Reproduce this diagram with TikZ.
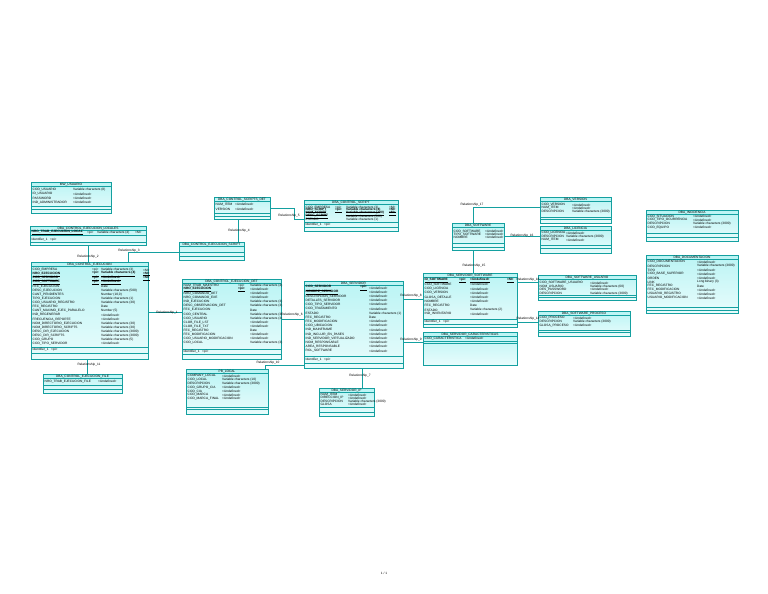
\documentclass[tikz,border=0pt]{standalone}
\usepackage{fontspec}
\setmainfont{Liberation Sans}
\usetikzlibrary{arrows.meta}
\definecolor{eb}{RGB}{20,160,160}
\definecolor{ef1}{RGB}{186,244,244}
\definecolor{ef2}{RGB}{232,252,252}
\tikzset{
 ebox/.style={draw=eb, line width=0.6pt, top color=ef1, bottom color=ef2, inner sep=0pt, outer sep=0pt},
 eline/.style={draw=eb, line width=0.5pt},
 etitle/.style={font=\fontsize{3.2}{3.5}\selectfont, inner sep=0pt},
 etxt/.style={font=\fontsize{3.2}{3.5}\selectfont, inner sep=0pt, anchor=west},
 conn/.style={draw=eb, line width=0.7pt},
 rlabel/.style={font=\fontsize{3.2}{3.5}\selectfont, inner sep=0pt},
}
\newcommand\dk[1]{\textbf{\underline{#1}}}
\newcommand\ent[8]{%
 \node[ebox, minimum width=#4pt, minimum height=#5pt, anchor=north west] (#1) at (#2,#3) {};
 \draw[eline] (#2,#3+4.5) -- ++(#4,0);
 \node[etitle] (#1t) at (#2+#4/2,#3+2.3) {#6};
 \draw[eline] (#2,#3+#7) -- ++(#4,0);
 \draw[eline] (#2,#3+#8) -- ++(#4,0);
}
\newcommand\rws[6]{%
 \foreach \na/\ty [count=\i] in {#6} {
  \node[etxt] (#1-n\i) at (#2+1.5,#3+\i*#4-#4) {\na};
  \node[etxt] (#1-t\i) at (#2+#5,#3+\i*#4-#4) {\ty};
 }}
\newcommand\idr[3]{%
 \node[etxt] (#1-id) at (#2+1.5,#3) {Identifier\_1};
 \node[etxt] (#1-idp) at (#2+20,#3) {<pi>};
}
\newcommand\tg[4]{\node[etxt] (#1) at (#2,#3) {#4};}
\begin{document}
\catcode`\_=12
\begin{tikzpicture}[x=1pt,y=-1pt]
\fill[white] (0,0) rectangle (768,594);
\useasboundingbox (0,0) rectangle (768,594);

% MW_USUARIO
\ent{mwu}{31}{182}{80}{31}{MW_USUARIO}{24}{27}
\rws{mwu}{31}{190}{4.1}{42}{COD_USUARIO/Variable characters (8), ID_USUARIO/<Undefined>, PASSWORD/<Undefined>, IND_ADMINISTRADOR/<Undefined>}

% LOG
\ent{log}{30}{226}{116}{19}{DBA_CONTROL_EJECUCION_LOCALES}{9.5}{16.5}
\rws{log}{30}{232.5}{4}{67}{\dk{NRO_TRAB_EJECUCION_LOCAL}/Variable characters (4)}
\tg{log-pi}{87}{232.5}{<pi>}
\tg{log-m}{135}{232.5}{<M>}
\idr{log}{30}{239.5}

% DBA_CONTROL_EJECUCION
\ent{ejec}{31}{262}{117}{97}{DBA_CONTROL_EJECUCION}{85}{91}
\rws{ejec}{31}{270}{4.1}{70}{COD_EMPRESA/Variable characters (3), \dk{NRO_EJECUCION}/\dk{Variable characters (4)}, \dk{COD_SERVIDOR}/\dk{<Undefined>}, \dk{COD_SOFTWARE}/\dk{<Undefined>}, FEC_EJECUCION/Date, DESC_EJECUCION/Variable characters (500), CANT_PENDIENTES/{Number (10,0)}, TIPO_EJECUCION/Variable characters (1), COD_USUARIO_REGISTRO/Variable characters (30), FEC_REGISTRO/Date, CANT_MAXIMO_EJEC_PARALELO/Number (5), IND_REGENERAR/<Undefined>, FRECUENCIA_REPORTE/<Undefined>, NOM_DIRECTORIO_EJECUCION/Variable characters (30), NOM_DIRECTORIO_SCRIPTS/Variable characters (30), DESC_DIR_EJECUCION/Variable characters (3000), DESC_DIR_SCRIPTS/Variable characters (3000), COD_GRUPO/Variable characters (5), COD_TIPO_SERVIDOR/<Undefined>}
\tg{ejec-p1}{92}{270}{<pi>}
\tg{ejec-p2}{92}{274.1}{\dk{<pi>}}
\tg{ejec-p3}{92}{278.2}{\dk{<pi>}}
\tg{ejec-p4}{92}{282.3}{\dk{<pi>}}
\tg{ejec-m1}{143}{270}{<M>}
\tg{ejec-m2}{143}{274.1}{\dk{<M>}}
\tg{ejec-m3}{143}{278.2}{\dk{<M>}}
\idr{ejec}{31}{350}

% DBA_CONTROL_SCRIPTS_DET
\ent{sdet}{214}{197}{56}{22}{DBA_CONTROL_SCRIPTS_DET}{16}{19}
\rws{sdet}{214}{204.5}{4.5}{21}{NUM_ITEM/<Undefined>, VERSION/<Undefined>}

% DBA_CONTROL_EJECUCION_SCRIPT
\ent{escr}{179}{242}{65}{18}{DBA_CONTROL_EJECUCION_SCRIPT}{10.7}{14.5}

% DBA_CONTROL_SCRIPT
\ent{cs}{304}{200}{94}{31}{DBA_CONTROL_SCRIPT}{22}{27}
\rws{cs}{304}{207.5}{3}{42}{COD_EMPRESA/Variable characters (3), \dk{NRO_SCRIPT}/\dk{Variable characters (4)}, \dk{NOM_SCRIPT}/\dk{Variable characters (100)}, \dk{DESC_SCRIPT}/Variable characters (500), ESTADO/Variable characters (1)}
\tg{cs-p1}{335}{207.5}{<pi>}
\tg{cs-p2}{335}{210.5}{\dk{<pi>}}
\tg{cs-m1}{389}{207.5}{<M>}
\tg{cs-m2}{389}{210.5}{\dk{<M>}}
\tg{cs-m3}{389}{213.5}{\dk{<M>}}
\idr{cs}{304}{225}

% DBA_CONTROL_EJECUCION_DET
\ent{det}{182}{279}{99}{80}{DBA_CONTROL_EJECUCION_DET}{70}{75}
\rws{det}{182}{285.5}{4.1}{68}{NUM_TRAB_MAESTRO/Variable characters (4), \dk{NRO_EJECUCION}/<Undefined>, NRO_COMANDO_DET/<Undefined>, NRO_COMANDO_EXE/<Undefined>, IND_EJECUCION/Variable characters (3), DESC_OBSERVACION_DET/Variable characters (3), FEC_EJECUCION/Date, COD_CENTRAL/Variable characters (3), COD_USUARIO/Variable characters (3), CLOB_FILE_LST/<Undefined>, CLOB_FILE_TXT/<Undefined>, FEC_REGISTRO/Date, FEC_MODIFICACION/<Undefined>, COD_USUARIO_MODIFICACION/<Undefined>, COD_LOCAL/Variable characters (3)}
\tg{det-p1}{238}{285.5}{<pi>}
\tg{det-p2}{238}{289.6}{\dk{<pi>}}
\idr{det}{182}{352}

% DBA_SERVIDOR
\ent{serv}{304}{281}{99}{87}{DBA_SERVIDOR}{75}{82}
\rws{serv}{304}{288}{4.2}{65}{\dk{COD_SERVIDOR}/<Undefined>, \dk{NOMBRE_SERVIDOR}/<Undefined>, DESCRIPCION_SERVIDOR/<Undefined>, DETALLES_SERVIDOR/<Undefined>, COD_TIPO_SERVIDOR/<Undefined>, COD_TRATAMIENTO/<Undefined>, ESTADO/Variable characters (1), FEC_REGISTRO/Date, FEC_MODIFICACION/<Undefined>, COD_UBICACION/<Undefined>, IND_MAINFRAME/<Undefined>, IND_INCLUIR_EN_PASES/<Undefined>, IND_SERVIDOR_VIRTUALIZADO/<Undefined>, NOM_RESPONSABLE/<Undefined>, AREA_RESPONSABLE/<Undefined>, ROL_SOFTWARE/<Undefined>}
\tg{serv-p1}{360}{288}{\dk{<pi>}}
\idr{serv}{304}{360}

% PB_LOCAL
\ent{pb}{186}{369}{82}{45}{PB_LOCAL}{38}{40.5}
\rws{pb}{186}{376}{3.8}{36}{COMPANY_LOCAL/<Undefined>, COD_LOCAL/Variable characters (10), DESCRIPCION/Variable characters (3000), COD_GRUPO_CIA/<Undefined>, COD_CIA/<Undefined>, COD_MARCA/<Undefined>, COD_MARCA_FINAL/<Undefined>}

% DBA_CONTROL_EJECUCION_FILE
\ent{file}{43}{374}{79}{19}{DBA_CONTROL_EJECUCION_FILE}{11}{15}
\rws{file}{43}{381.5}{4}{55}{NRO_TRAB_EJECUCION_FILE/<Undefined>}

% DBA_SERVIDOR_IP
\ent{ip}{319}{388}{55}{28}{DBA_SERVIDOR_IP}{19}{24}
\rws{ip}{319}{395}{3.1}{29}{NUM_ITEM/<Undefined>, DIRECCION_IP/<Undefined>, DESCRIPCION/Variable characters (3000), GLOSA/<Undefined>}

% DBA_SOFTWARE
\ent{sw}{452}{223}{52}{27}{DBA_SOFTWARE}{20}{24}
\rws{sw}{452}{231.5}{3}{33}{COD_SOFTWARE/<Undefined>, TIPO_SOFTWARE/<Undefined>, NOMBRE/<Undefined>}

% DBA_SERVIDOR_SOFTWARE
\ent{ssw}{423}{273}{94}{54}{DBA_SERVIDOR_SOFTWARE}{46}{51}
\rws{ssw}{423}{280.5}{4.2}{47}{\dk{ID_SOFTWARE}/\dk{<Undefined>}, COD_SOFTWARE/<Undefined>, COD_LICENCIA/<Undefined>, COD_VERSION/<Undefined>, GLOSA_DETALLE/<Undefined>, NOMBRE/<Undefined>, FEC_REGISTRO/Date, ESTADO/Variable characters (2), IND_INVENTARIO/<Undefined>}
\tg{ssw-p1}{459}{280.5}{\dk{<pi>}}
\tg{ssw-m1}{507}{280.5}{\dk{<M>}}
\idr{ssw}{423}{322}

% DBA_SERVIDOR_CARACTERISTICAS
\ent{car}{423}{332}{94}{33}{DBA_SERVIDOR_CARACTERISTICAS}{9}{11.5}
\rws{car}{423}{338.5}{4}{42}{COD_CARACTERISTICA/<Undefined>}

% DBA_VERSION
\ent{ver}{540}{197}{71}{26}{DBA_VERSION}{20}{22.5}
\rws{ver}{540}{205}{3.2}{32}{COD_VERSION/<Undefined>, NUM_ITEM/<Undefined>, DESCRIPCION/Variable characters (3000)}

% DBA_LICENCIA
\ent{lic}{540}{226}{71}{27}{DBA_LICENCIA}{19}{22}
\rws{lic}{540}{233}{3.5}{26}{COD_LICENCIA/<Undefined>, DESCRIPCION/Variable characters (3000), NUM_ITEM/<Undefined>}

% DBA_SOFTWARE_USUARIO
\ent{su}{538}{275}{98}{25}{DBA_SOFTWARE_USUARIO}{20}{22.5}
\rws{su}{538}{283}{3.4}{52}{COD_SOFTWARE_USUARIO/<Undefined>, NOM_USUARIO/Variable characters (60), DES_PASSWORD/<Undefined>, DESCRIPCION/Variable characters (3000)}

% DBA_SOFTWARE_PROCESO
\ent{sp}{538}{311}{92}{25}{DBA_SOFTWARE_PROCESO}{19}{21.5}
\rws{sp}{538}{318}{3.8}{35}{COD_PROCESO/<Undefined>, DESCRIPCION/Variable characters (3000), GLOSA_PROCESO/<Undefined>}

% DBA_INCIDENCIA
\ent{inc}{646}{210}{92}{31}{DBA_INCIDENCIA}{23}{27}
\rws{inc}{646}{216.5}{3.6}{47}{COD_SITUACION/<Undefined>, COD_TIPO_OCURRENCIA/<Undefined>, DESCRIPCION/Variable characters (3000), COD_EQUIPO/<Undefined>}

% DBA_DOCUMENTACION
\ent{doc}{646}{255}{92}{58}{DBA_DOCUMENTACION}{52}{55}
\rws{doc}{646}{262}{4}{51}{COD_DOCUMENTACION/<Undefined>, DESCRIPCION/Variable characters (3000), TIPO/<Undefined>, COD_BASE_SUPERIOR/<Undefined>, ORDEN/<Undefined>, LINK/Long binary (3), FEC_REGISTRO/Date, FEC_MODIFICACION/<Undefined>, USUARIO_REGISTRO/<Undefined>, USUARIO_MODIFICACION/<Undefined>}

% connectors
\draw[conn] (log.south) -- (log.south |- ejec.north);
\draw[conn] ([xshift=38.5]ejec.north) |- ([yshift=-1.5]escr.west);
\draw[conn] ([xshift=-4]sdet.south) -- ([xshift=-4]sdet.south |- escr.north);
\draw[conn] (sdet.east) -- ++(24,0) |- ([yshift=-3.5]cs.west);
\draw[conn] ([yshift=-2]ejec.east) -- ([yshift=-2]ejec.east -| det.west);
\draw[conn] (det.east) -- (det.east -| serv.west);
\draw[conn] ([xshift=-2]ejec.south) -- ([xshift=-2]ejec.south |- file.north);
\draw[conn] ([yshift=-40.5]serv.west) -| ([xshift=-3]pb.north east);
\draw[conn] ([xshift=8.5]serv.south) -- ([xshift=8.5]serv.south |- ip.north);
\draw[conn] ([yshift=25.5]serv.east) -- ([yshift=25.5]serv.east -| ssw.west);
\draw[conn] ([yshift=-17.5]serv.east) -- ([yshift=-17.5]serv.east -| car.west);
\draw[conn] ([xshift=-5]sw.south) -- ([xshift=-5]sw.south |- ssw.north);
\draw[conn] ([xshift=-5]sw.north) |- ([yshift=3]ver.west);
\draw[conn] (sw.east) -- (sw.east -| lic.west);
\draw[conn] ([yshift=18]ssw.east) -- ([yshift=18]ssw.east -| su.west);
\draw[conn] ([yshift=-22]ssw.east) -- ([yshift=-22]ssw.east -| sp.west);

% relationship labels
\node[rlabel] (r2) at (88,257) {Relationship_2};
\node[rlabel] (r3) at (129,251) {Relationship_3};
\node[rlabel] (r4) at (239,231) {Relationship_4};
\node[rlabel] (r5) at (289,216) {Relationship_5};
\node[rlabel] (r1) at (167,313) {Relationship_1};
\node[rlabel] (r6) at (292,315) {Relationship_6};
\node[rlabel] (r11) at (89,365) {Relationship_11};
\node[rlabel] (r10) at (268,363) {Relationship_10};
\node[rlabel] (r7) at (360,376) {Relationship_7};
\node[rlabel] (r8) at (411,296) {Relationship_8};
\node[rlabel] (r9) at (411,340) {Relationship_9};
\node[rlabel] (r15) at (474,266) {Relationship_15};
\node[rlabel] (r17) at (472,205) {Relationship_17};
\node[rlabel] (r16) at (522,236) {Relationship_16};
\node[rlabel] (r18) at (528,280) {Relationship_18};
\node[rlabel] (r14) at (528,319) {Relationship_14};

\node[rlabel] (pg) at (384,573) {1 / 1};
\end{tikzpicture}
\end{document}
